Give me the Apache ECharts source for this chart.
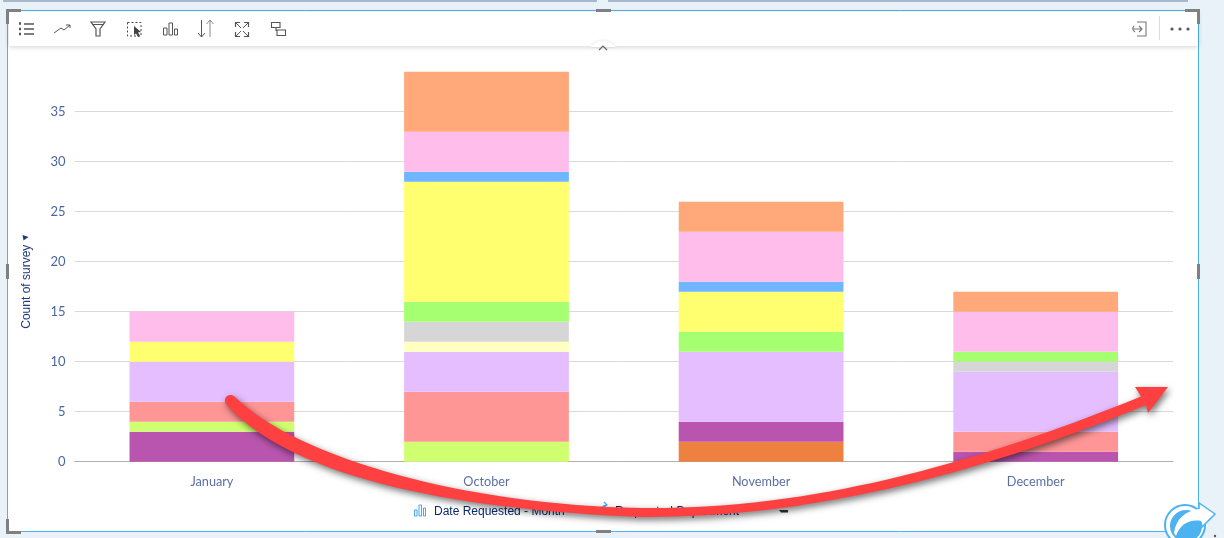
<!DOCTYPE html>
<html><head><meta charset="utf-8">
<style>html,body{margin:0;padding:0;background:#E9F1F9}#c{width:1224px;height:538px}</style>
<script src="https://cdn.jsdelivr.net/npm/echarts@6/dist/echarts.min.js"></script>
</head><body><div id="c"></div>
<script>
const categories = ['January','October','November','December'];
const yAxisTitle = 'Count of survey';
const legendItems = ['Date Requested - Month','Requested Department'];
const seriesNames = ['Group 1','Group 2','Group 3','Group 4','Group 5','Group 6','Group 7','Group 8','Group 9','Group 10','Group 11','Group 12'];
const deepOrange = [0,0,2,0];
const plum       = [3,0,2,1];
const lime       = [1,2,0,0];
const salmon     = [2,5,0,2];
const lilac      = [4,4,7,6];
const cream      = [0,1,0,0];
const grey       = [0,2,0,1];
const green      = [0,2,2,1];
const yellow     = [2,12,4,0];
const blue       = [0,1,1,0];
const pink       = [3,4,5,4];
const orange     = [0,6,3,2];
const stackValues = [deepOrange,plum,lime,salmon,lilac,cream,grey,green,yellow,blue,pink,orange];
const colors = ['#EE8040','#B955AE','#CFFF70','#FF9696','#E5BEFF','#FFFFC0','#D6D6D6','#A6FF70','#FFFF70','#70B5FF','#FFBDEB','#FFA87A'];

const ink = '#555';
const rect = (x,y,w,h,fill,extra={}) => ({type:'rect',shape:{x,y,width:w,height:h},style:{fill},silent:true,...extra});
const rawPath = (d,style) => ({type:'path',silent:true,style,shape:{pathData:d}});
const line = (d,w,c,dash) => rawPath(d,{fill:'none',stroke:c||ink,lineWidth:w||1,lineDash:dash||null});

const backdrop = [
  rect(0,0,1224,538,'#E9F1F9',{z:-10}),
  rect(3,0,594,2,'#A9B7CB',{z:-9}), rect(608,0,580,2,'#A9B7CB',{z:-9}),
  rect(7.5,10.5,1191,521,'#fff',{z:-8,style:{fill:'#fff',stroke:'#4DB3F0',lineWidth:1}}),
  rect(9,12,1189,34,'#fff',{z:-7,style:{fill:'#fff',shadowBlur:5,shadowColor:'rgba(0,0,0,0.18)',shadowOffsetY:1}})
];
const handleC = '#808080';
const handles = [
  rect(6,9,15,3,handleC),rect(6,9,3,15,handleC),
  rect(1185,9,15,3,handleC),rect(1197,9,3,15,handleC),
  rect(6,531,15,3,handleC),rect(6,519,3,15,handleC),
  rect(596,9,15,3,handleC),rect(596,530,15,3,handleC),
  rect(6,264,3,15,handleC),rect(1197,264,3,15,handleC)
];
const toolbar = [
  rawPath('M590 47 L595 43 Q603 38 611 43 L616 47 Z',{fill:'#fff',shadowBlur:3,shadowColor:'rgba(0,0,0,0.15)'}),
  line('M599 50 L603 46 L607 50',1.2,'#666'),
  line('M24 24H34 M24 29H34 M24 34H34',1.6),
  line('M19 23.5H21 M19 29H21 M19 34H21',2.4),
  line('M54 33 L61 28 L64 30 L70 25 M66 25 H70 V28',1),
  line('M91 22 H105 L100 29 V36 H96 V29 Z M92 24.5 H104',1.2),
  line('M127.5 22.5 H141 V36 H127.5 Z',1,'#444',[2,2]),
  rawPath('M134 26 L141 32 L138 32.5 L140 36 L138 37 L136 33.5 L134 35 Z',{fill:'#444'}),
  line('M163.5 28 H167 V35 H163.5 Z M169 23 H172.5 V35 H169 Z M174.5 29 H177.5 V35 H174.5 Z',1),
  line('M201.5 20 V37 M198 33 L201.5 37 L205 33',1),
  line('M210 37 V20 M206.5 24 L210 20 L213.5 24',1,'#888'),
  line('M235.5 27 V22.5 H240 M244 22.5 H248.5 V27 M248.5 32 V36.5 H244 M240 36.5 H235.5 V32',1.2),
  line('M236 23 L241 28 M248 23 L243 28 M236 36 L241 31 M248 36 L243 31',1),
  line('M271.5 22.5 H280 V27.5 H271.5 Z M277 30 H285.5 V35.5 H277 Z M276 27.5 V31',1.1),
  line('M1137 22 H1146 V36 H1137 M1133 29 H1142 M1139 26 L1142 29 L1139 32 M1134 26 Q1131 29 1135 32',1.1,'#777'),
  rect(1159,16,1,24,'#ddd'),
  ...[1172,1180,1188].map(x=>({type:'circle',shape:{cx:x,cy:29,r:1.6},style:{fill:'#555'},silent:true}))
];
const legendDeco = [
  {type:'text',silent:true,style:{x:434,y:506,text:legendItems[0],fill:'#0B2A6B',font:'12px "Liberation Sans"'}},
  {type:'text',silent:true,style:{x:615,y:506,text:legendItems[1],fill:'#0B2A6B',font:'12px "Liberation Sans"'}},
  line('M414.5 510 H417 V516 H414.5 Z M419 505 H421.5 V516 H419 Z M423.5 508 H425.5 V516 H423.5 Z',1,'#3FA9F5'),
  line('M600 512 Q601 505 607 505 M604 502 L607 505 L604 507',1.2,'#3FA9F5'),
  rawPath('M779 510 H788 V512.5 H781 Z',{fill:'#333'})
];
const axisArrow = rawPath('M22.5 235 L28.5 237 L23.5 240.5 Z',{fill:'#1F3A7A'});
const arrow = [
  rawPath('M235 397 C300 460 470 505 640 508 C800 510 960 470 1141 396.5 L1135 387 L1168 387 L1148 413 L1146 405 C965 480 800 518 640 517 C470 510 295 482 226 404 C222 397 230 392 235 397 Z',
   {fill:'#FF4040',shadowBlur:7,shadowColor:'rgba(0,0,0,0.55)',shadowOffsetX:2,shadowOffsetY:3})
];
const badge = [
  {type:'circle',silent:true,shape:{cx:1185,cy:525,r:20},style:{fill:'#fff',stroke:'#4DB3F0',lineWidth:2}},
  {type:'circle',silent:true,shape:{cx:1186,cy:526,r:16},style:{fill:'#4DB3F0'}},
  rawPath('M1174 533 C1176 518 1186 511 1199 509 L1199 503 L1215 514 L1202 527 L1201 521 C1190 519 1180 524 1176 536 Z',{fill:'#fff'}),
  line('M1199 509 L1199 503 L1215 514 L1202 527 L1201 522',1.5,'#4DB3F0'),
  {type:'circle',silent:true,shape:{cx:1215,cy:536,r:1.2},style:{fill:'#555'}}
];
const overlay = [...toolbar,...legendDeco,axisArrow,...arrow,...badge,...handles];

const chart = echarts.init(document.getElementById('c'),null,{renderer:'canvas'});
chart.setOption({
  animation:false,
  backgroundColor:'#E9F1F9',
  grid:{left:74.6,right:51,top:71.7,bottom:76.3,containLabel:false},
  xAxis:{type:'category',data:categories,
    axisLine:{lineStyle:{color:'#B0B0B0',width:1}},
    axisTick:{alignWithLabel:true,length:5,lineStyle:{color:'#999'}},
    axisLabel:{color:'#5A70A3',fontFamily:'Lato',fontSize:12.7,margin:14}},
  yAxis:{type:'value',min:0,max:39,interval:5,
    name:yAxisTitle,nameLocation:'middle',nameGap:42,nameRotate:90,
    nameTextStyle:{color:'#1F3A7A',fontFamily:'Liberation Sans',fontSize:12,padding:[0,40,0,0]},
    axisLine:{show:false},axisTick:{show:false},
    axisLabel:{color:'#4A66A0',fontFamily:'Lato',fontSize:13,margin:9,showMaxLabel:false,padding:[3,0,0,0]},
    splitLine:{show:true,showMaxLine:false,lineStyle:{color:'#D9D9D9',width:1}}},
  series:[...stackValues.map((vals,i)=>({
    name:seriesNames[i],type:'bar',stack:'total',data:vals,barWidth:'60%',
    itemStyle:{color:colors[i]},emphasis:{disabled:true}})),
    {type:'custom',coordinateSystem:'none',z:20,silent:true,clip:false,data:[0],
     renderItem:()=>({type:'group',children:overlay})}],
  graphic:{elements:backdrop}
});
</script></body></html>
